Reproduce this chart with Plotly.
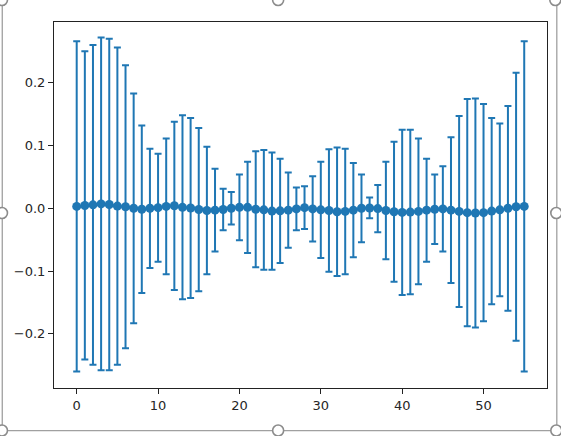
import plotly.graph_objects as go

# values
x_idx = list(range(56))
y_mean = [0.003, 0.0045, 0.0055, 0.007, 0.006, 0.0035, 0.0025, 0.0, -0.0015, 0.0,
          0.001, 0.003, 0.004, 0.0015, 0.0005, -0.002, -0.0035, -0.003, -0.002, 0.0,
          0.0015, 0.0015, -0.0015, -0.0025, -0.0045, -0.004, -0.003, -0.001, 0.001, -0.001,
          -0.0025, -0.0035, -0.0055, -0.005, -0.003, 0.0, 0.0005, -0.0005, -0.0035, -0.0055,
          -0.0065, -0.006, -0.005, -0.003, -0.0015, -0.001, -0.003, -0.005, -0.007, -0.0075,
          -0.007, -0.0045, -0.0025, 0.0, 0.0025, 0.003]
y_err = [0.263, 0.2455, 0.2545, 0.265, 0.264, 0.2525, 0.2255, 0.183, 0.1335, 0.095,
         0.086, 0.108, 0.134, 0.1465, 0.1435, 0.130, 0.1015, 0.066, 0.033, 0.026,
         0.0525, 0.0725, 0.0925, 0.0955, 0.0935, 0.083, 0.060, 0.034, 0.034, 0.052,
         0.0765, 0.0975, 0.1025, 0.100, 0.075, 0.054, 0.0165, 0.0375, 0.0775, 0.1115,
         0.1315, 0.131, 0.116, 0.082, 0.0555, 0.068, 0.116, 0.152, 0.181, 0.1825,
         0.173, 0.1485, 0.1375, 0.163, 0.2135, 0.263]
y_ticks = [-0.2, -0.1, 0.0, 0.1, 0.2]
x_ticks = [0, 10, 20, 30, 40, 50]

BLUE = '#1f77b4'
W, H = 561, 436
L, R, T, B = 54, 546.7, 22, 388


def px(xp):
    return (xp - L) / (R - L)


def py(yp):
    return (B - yp) / (B - T)


fig = go.Figure()
fig.add_trace(go.Scatter(
    x=x_idx,
    y=y_mean,
    mode='lines+markers',
    line=dict(color=BLUE, width=2),
    marker=dict(color=BLUE, size=9),
    error_y=dict(type='data', array=y_err, visible=True,
                 color=BLUE, thickness=2, width=3.5),
    showlegend=False,
))

# the selection frame around the picture
shapes = [dict(type='rect', xref='paper', yref='paper',
               x0=px(2.3), x1=px(556.5), y0=py(430.7), y1=py(-1),
               line=dict(color='#a0a0a0', width=1.3), layer='below')]
for hx, hy in [(2, 0), (278, 0), (555, 0), (2, 213), (556, 213),
               (2, 430.5), (278, 430.5), (556, 430.5)]:
    r = 5.5
    shapes.append(dict(type='circle', xref='paper', yref='paper',
                       x0=px(hx - r), x1=px(hx + r), y0=py(hy + r), y1=py(hy - r),
                       fillcolor='white', line=dict(color='#8c8c8c', width=1.6)))

axis_style = dict(
    showline=True, linecolor='#222222', linewidth=1.1, mirror=True,
    ticks='outside', ticklen=5, tickwidth=1.1, tickcolor='#222222',
    showgrid=False, zeroline=False,
    tickfont=dict(family='DejaVu Sans', size=13, color='#262626'),
)

fig.update_layout(
    width=W, height=H,
    margin=dict(l=L, r=W - R, t=T, b=H - B),
    paper_bgcolor='white', plot_bgcolor='white',
    xaxis=dict(range=[-2.79, 57.8], tickvals=x_ticks, **axis_style),
    yaxis=dict(range=[-0.2862, 0.2967], tickvals=y_ticks,
               ticktext=['\u22120.2', '\u22120.1', '0.0', '0.1', '0.2'], **axis_style),
    shapes=shapes,
)

# page body has a default 8px margin; drop it so the figure sits at 0,0
fig.write_html("out.html",
               config={'displayModeBar': False},
               post_script="document.body.style.margin='0';document.body.style.overflow='hidden';")
